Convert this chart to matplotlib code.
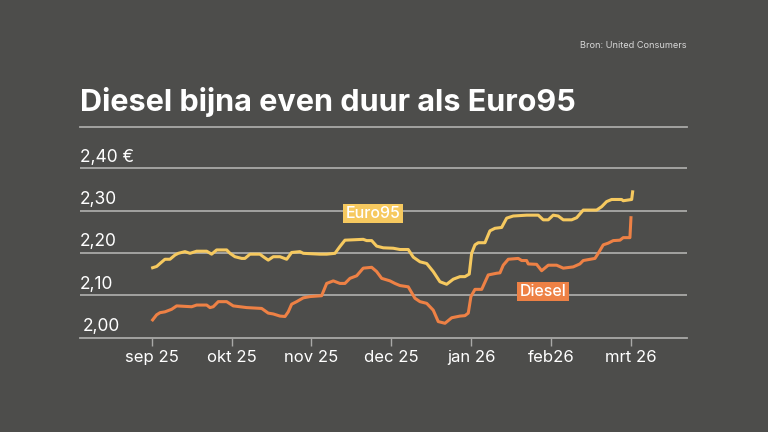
import matplotlib
matplotlib.use("Agg")
import matplotlib.pyplot as plt
import matplotlib.transforms as mtransforms

# ---- data (time in months since 1 Sep 2025) ----
month_labels = ["sep 25", "okt 25", "nov 25", "dec 25", "jan 26", "feb26", "mrt 26"]
y_ticks = [2.00, 2.10, 2.20, 2.30, 2.40]
y_tick_labels = ["2,00", "2,10", "2,20", "2,30", "2,40 €"]

euro95_t = [0.011, 0.061, 0.103, 0.165, 0.228, 0.291, 0.332, 0.416, 0.479, 0.562,
            0.688, 0.750, 0.813, 0.938, 0.980, 1.042, 1.126, 1.167, 1.230, 1.355,
            1.397, 1.459, 1.522, 1.606, 1.690, 1.752, 1.856, 1.898, 2.107, 2.191,
            2.295, 2.357, 2.420, 2.649, 2.692, 2.755, 2.817, 2.900, 3.025, 3.109,
            3.213, 3.276, 3.360, 3.444, 3.526, 3.610, 3.694, 3.777, 3.861, 3.923,
            3.977, 4.007, 4.049, 4.090, 4.174, 4.236, 4.299, 4.383, 4.446, 4.528,
            4.696, 4.842, 4.904, 4.967, 5.029, 5.092, 5.155, 5.260, 5.323, 5.405,
            5.573, 5.636, 5.698, 5.761, 5.886, 5.906, 6.012, 6.024]
euro95 = [2.165, 2.168, 2.175, 2.185, 2.185, 2.195, 2.199, 2.203, 2.199, 2.204,
          2.204, 2.197, 2.207, 2.207, 2.199, 2.191, 2.187, 2.187, 2.197, 2.197,
          2.191, 2.183, 2.191, 2.191, 2.185, 2.201, 2.203, 2.199, 2.197, 2.197,
          2.199, 2.215, 2.230, 2.232, 2.229, 2.229, 2.216, 2.212, 2.211, 2.208,
          2.208, 2.190, 2.179, 2.175, 2.156, 2.132, 2.126, 2.138, 2.144, 2.144,
          2.150, 2.199, 2.219, 2.224, 2.224, 2.252, 2.258, 2.260, 2.282, 2.287,
          2.289, 2.289, 2.278, 2.278, 2.289, 2.287, 2.278, 2.278, 2.283, 2.301,
          2.301, 2.309, 2.321, 2.326, 2.326, 2.323, 2.326, 2.344]

diesel_t = [0.011, 0.061, 0.103, 0.165, 0.249, 0.312, 0.500, 0.562, 0.688, 0.729,
            0.770, 0.833, 0.938, 1.021, 1.105, 1.189, 1.377, 1.459, 1.522, 1.606,
            1.669, 1.710, 1.752, 1.815, 1.898, 1.982, 2.128, 2.191, 2.274, 2.357,
            2.420, 2.483, 2.567, 2.649, 2.755, 2.817, 2.880, 2.984, 3.046, 3.109,
            3.213, 3.297, 3.360, 3.444, 3.526, 3.589, 3.673, 3.757, 3.861, 3.923,
            3.965, 3.998, 4.049, 4.133, 4.215, 4.320, 4.362, 4.403, 4.466, 4.591,
            4.634, 4.696, 4.716, 4.821, 4.884, 4.967, 5.072, 5.155, 5.280, 5.363,
            5.405, 5.552, 5.593, 5.656, 5.718, 5.781, 5.865, 5.906, 5.990, 6.003]
diesel = [2.042, 2.054, 2.059, 2.061, 2.067, 2.075, 2.073, 2.077, 2.077, 2.071,
          2.073, 2.085, 2.085, 2.075, 2.073, 2.071, 2.069, 2.058, 2.056, 2.051,
          2.050, 2.061, 2.079, 2.085, 2.094, 2.097, 2.099, 2.128, 2.134, 2.128,
          2.128, 2.140, 2.146, 2.164, 2.166, 2.156, 2.140, 2.134, 2.128, 2.123,
          2.120, 2.093, 2.085, 2.081, 2.065, 2.038, 2.034, 2.047, 2.051, 2.052,
          2.058, 2.097, 2.114, 2.114, 2.148, 2.152, 2.153, 2.171, 2.185, 2.187,
          2.182, 2.182, 2.174, 2.173, 2.158, 2.171, 2.171, 2.164, 2.167, 2.174,
          2.182, 2.187, 2.199, 2.219, 2.223, 2.229, 2.230, 2.236, 2.236, 2.283]

# ---- style ----
BG = "#4d4d4b"
GRID = "#a9a9a7"
YELLOW = "#f6c95f"
ORANGE = "#ee8145"
FONT = "Inter"

W, H = 768, 432
fig = plt.figure(figsize=(W / 100, H / 100), dpi=100, facecolor=BG)

x0, x1 = 80, 687
y_base, y_top = 337.7, 150.0
ax = fig.add_axes([x0 / W, (H - y_base) / H, (x1 - x0) / W, (y_base - y_top) / H])
ax.set_facecolor(BG)

ax.set_xlim(-0.899, 6.705)
ax.set_ylim(2.0, 2.0 + (y_base - y_top) / 424.0)

for s in ["top", "right", "left"]:
    ax.spines[s].set_visible(False)
ax.spines["bottom"].set_color(GRID)
ax.spines["bottom"].set_linewidth(1.3)

for v in y_ticks[1:]:
    ax.axhline(v, color=GRID, lw=1.3, zorder=1)

ax.set_yticks([])
ax.set_xticks(range(len(month_labels)))
ax.set_xticklabels(month_labels, fontsize=12, color="white", family=FONT)
ax.tick_params(axis="x", length=6, width=1, color=GRID, pad=3)

ax.plot(euro95_t, euro95, color=YELLOW, lw=2.2, zorder=3, solid_joinstyle="round")
ax.plot(diesel_t, diesel, color=ORANGE, lw=2.2, zorder=3, solid_joinstyle="round")

# y labels
trans = mtransforms.blended_transform_factory(ax.transAxes, ax.transData)
for v, lab in zip(y_ticks, y_tick_labels):
    dx = 3 if v == 2.0 else 0
    t = ax.text(0, v, lab, transform=trans, ha="left", va="bottom", fontsize=12.5,
                color="white", family=FONT)
    t.set_transform(trans + mtransforms.ScaledTranslation(dx / 100, 2.5 / 100, fig.dpi_scale_trans))

# series labels
ax.text(2.77, 2.2935, "Euro95", ha="center", va="center", fontsize=11.5, color="white",
        family=FONT, fontweight="medium", zorder=5,
        bbox=dict(boxstyle="square,pad=0.14", fc=YELLOW, ec="none"))
ax.text(4.9, 2.1095, "Diesel", ha="center", va="center", fontsize=11.5, color="white",
        family=FONT, fontweight="medium", zorder=5,
        bbox=dict(boxstyle="square,pad=0.14", fc=ORANGE, ec="none"))

# title, rule and source
fig.text(x0 / W, 1 - 102 / H, "Diesel bijna even duur als Euro95", ha="left", va="center",
         fontsize=22, fontweight="bold", color="white", family=FONT)
fig.add_artist(plt.Line2D([x0 / W, x1 / W], [1 - 127 / H, 1 - 127 / H], color=GRID, lw=1.3))
fig.text(x1 / W, 1 - 45 / H, "Bron: United Consumers", ha="right", va="center",
         fontsize=6.6, color="#d8d8d8", family=FONT)

fig.savefig("out.png", dpi=100, facecolor=BG)
